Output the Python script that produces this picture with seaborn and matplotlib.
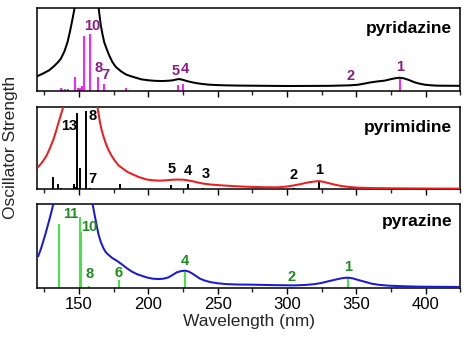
import numpy as np
import pandas as pd
import matplotlib
matplotlib.use("Agg")
import matplotlib.pyplot as plt
from matplotlib.ticker import MultipleLocator
import seaborn as sns

# ---------------- broadened absorption spectra (wavelength nm, intensity a.u.) ----------------
pdz_wl = [120, 124, 128.5, 132, 135, 136.9, 139.5, 141.7, 143.5, 145.3, 146.8, 148,
          163, 164.1, 165, 165.7, 166.8, 168.1, 169.8, 171.7, 174, 176.5, 180, 183.7,
          187, 190.9, 195, 200.5, 205, 210.1, 214, 217.3, 220, 222.1, 224.5, 226.9,
          230, 234.1, 238.5, 243.7, 250, 255.7, 265, 272.5, 300, 330, 345, 351, 356,
          360, 365, 370.4, 375.2, 378.5, 381.2, 384, 387.2, 392, 395.5, 399.2, 404,
          408.8, 425]
pdz_int = [0.18, 0.21, 0.25, 0.30, 0.35, 0.39, 0.48, 0.59, 0.72, 0.87, 1.0, 1.15,
           1.15, 1.0, 0.88, 0.79, 0.69, 0.59, 0.51, 0.43, 0.35, 0.29, 0.24, 0.20,
           0.18, 0.16, 0.14, 0.128, 0.122, 0.12, 0.123, 0.128, 0.138, 0.144, 0.136, 0.124,
           0.11, 0.096, 0.085, 0.076, 0.071, 0.068, 0.065, 0.064, 0.06, 0.062, 0.068, 0.075, 0.09,
           0.103, 0.115, 0.125, 0.144, 0.155, 0.16, 0.153, 0.136, 0.104, 0.088, 0.076, 0.068,
           0.064, 0.062]

pmd_wl = [120.5, 123.5, 126.6, 129, 131.4, 133.3, 135, 136.8, 138.6, 140,
          162, 163.3, 165, 166, 167.3, 169, 170.9, 173, 175.7, 178.5, 181.7, 185,
          188.9, 193, 198.5, 203, 208.1, 213, 217.7, 221, 224.9, 228, 232.1, 235.5,
          239.3, 245, 251.3, 262, 273, 285, 293.5, 300.7, 305, 310.3, 314, 317.5,
          322.8, 326, 329.5, 334, 339.1, 345, 351.1, 362, 377.5, 400, 425]
pmd_int = [0.27, 0.33, 0.41, 0.50, 0.60, 0.70, 0.80, 0.90, 1.0, 1.12,
           1.12, 1.0, 0.82, 0.74, 0.66, 0.57, 0.49, 0.42, 0.35, 0.29, 0.25, 0.21,
           0.18, 0.15, 0.12, 0.11, 0.105, 0.11, 0.117, 0.118, 0.117, 0.11, 0.097, 0.083,
           0.07, 0.058, 0.05, 0.038, 0.03, 0.025, 0.024, 0.036, 0.048, 0.065, 0.08, 0.09,
           0.10, 0.092, 0.077, 0.058, 0.04, 0.028, 0.02, 0.015, 0.012, 0.01, 0.008]

pzn_wl = [120.5, 122.5, 124.2, 126, 127.8, 129.6, 131.4, 133,
          158.5, 159.8, 161.5, 162.7, 163.9, 165.5, 167.5, 169.3, 171.1, 174, 177.1,
          180.5, 184.4, 188, 191.6, 195, 198.8, 203, 207.2, 211, 214.4, 217.5, 220.4,
          223.5, 226.4, 229, 231.2, 234, 237.2, 240.5, 244.4, 250, 256.4, 265, 273.2,
          290, 305.5, 313, 319.9, 325, 329.5, 334, 337.9, 341, 343.9, 347.5, 351.1,
          356, 360.7, 366, 372.7, 383, 394.3, 425]
pzn_int = [0.38, 0.47, 0.56, 0.66, 0.77, 0.88, 1.0, 1.12,
           1.12, 1.0, 0.85, 0.75, 0.65, 0.56, 0.48, 0.43, 0.40, 0.36, 0.33,
           0.29, 0.24, 0.20, 0.17, 0.15, 0.13, 0.115, 0.11, 0.115, 0.13, 0.16, 0.19,
           0.205, 0.21, 0.20, 0.18, 0.15, 0.115, 0.093, 0.075, 0.06, 0.05, 0.045, 0.044,
           0.038, 0.035, 0.04, 0.05, 0.065, 0.083, 0.10, 0.115, 0.124, 0.127, 0.118, 0.10,
           0.078, 0.056, 0.042, 0.032, 0.025, 0.02, 0.016]

# ---------------- computed transitions (wavelength nm, oscillator strength a.u., state) ----------------
pdz_states_wl = [136.7, 137.9, 139.8, 142.2, 147.0, 149.4, 150.6, 152.3, 153.7, 157.8,
                 163.8, 168.1, 184.2, 221.0, 224.6, 346.0, 381.2]
pdz_states_f = [0.03, 0.02, 0.02, 0.02, 0.17, 0.03, 0.03, 0.06, 0.66, 0.69,
                0.165, 0.085, 0.03, 0.07, 0.08, 0.005, 0.14]
pdz_states_id = ['', '', '', '', '', '', '', '', '', '10', '8', '7', '', '5', '4', '2', '1']

pmd_states_wl = [131.4, 135.0, 136.9, 146.5, 147.3, 148.2, 149.3, 151.0, 154.8, 157.9,
                 179.3, 216.6, 228.6, 239.7, 305.0, 322.8]
pmd_states_f = [0.15, 0.065, 0.02, 0.065, 0.03, 0.93, 0.02, 0.255, 0.95, 0.015,
                0.07, 0.055, 0.065, 0.01, 0.01, 0.09]
pmd_states_id = ['', '', '', '', '', '13', '', '', '8', '7', '', '5', '4', '3', '2', '1']

pzn_states_wl = [135.5, 150.4, 151.1, 157.0, 179.1, 226.2, 303.1, 343.9]
pzn_states_f = [0.77, 0.85, 0.67, 0.03, 0.10, 0.19, 0.01, 0.12]
pzn_states_id = ['', '11', '10', '8', '6', '4', '2', '1']

molecules = ["pyridazine", "pyrimidine", "pyrazine"]

# ---------------- layout ----------------
# where each state number is written: (x in nm, y in a.u.)
label_xy = {
    "pyridazine": {"10": (159.8, 0.78), "8": (163.8, 0.28), "7": (169.3, 0.19),
                   "5": (219.9, 0.24), "4": (226.4, 0.26), "2": (345.9, 0.18), "1": (381.2, 0.29)},
    "pyrimidine": {"13": (142.9, 0.77), "8": (159.6, 0.89), "7": (159.6, 0.12),
                   "5": (216.7, 0.25), "4": (228.7, 0.22), "3": (241.4, 0.18),
                   "2": (304.6, 0.17), "1": (322.8, 0.23)},
    "pyrazine": {"11": (144.1, 0.89), "10": (157.3, 0.73), "8": (157.5, 0.17),
                 "6": (178.7, 0.18), "4": (226.2, 0.33), "2": (303.1, 0.13), "1": (343.9, 0.25)},
}
style = {
    "pyridazine": dict(curve="#000000", stick="#ff1aff", text="#8b1a8b", name_y=0.70),
    "pyrimidine": dict(curve="#ee1c1c", stick="#000000", text="#000000", name_y=0.70),
    "pyrazine": dict(curve="#1a1ad6", stick="#3ce83c", text="#1e8c1e", name_y=0.74),
}

spectra = {
    "pyridazine": (pdz_wl, pdz_int, pdz_states_wl, pdz_states_f, pdz_states_id),
    "pyrimidine": (pmd_wl, pmd_int, pmd_states_wl, pmd_states_f, pmd_states_id),
    "pyrazine": (pzn_wl, pzn_int, pzn_states_wl, pzn_states_f, pzn_states_id),
}

sns.set_theme(style="ticks")
plt.rcParams["font.family"] = ["Liberation Sans", "DejaVu Sans"]
plt.rcParams["axes.linewidth"] = 1.1

fig = plt.figure(figsize=(4.74, 3.4), dpi=100)
left, right = 0.079, 0.9715
panel_bounds = [(0.7324, 0.9765), (0.4432, 0.6853), (0.152, 0.399)]

axes = []
for mol, (bot, top) in zip(molecules, panel_bounds):
    ax = fig.add_axes([left, bot, right - left, top - bot])
    axes.append(ax)
    wl, inten, s_wl, s_f, s_id = spectra[mol]
    st = style[mol]

    ax.vlines(s_wl, 0, s_f, colors=st["stick"], linewidth=1.4, zorder=2)
    df = pd.DataFrame({"wl": wl, "intensity": inten})
    sns.lineplot(data=df, x="wl", y="intensity", ax=ax, color=st["curve"],
                 linewidth=1.45, sort=False, estimator=None, zorder=3)

    for sid, (lx, ly) in label_xy[mol].items():
        ax.text(lx, ly, sid, color=st["text"], fontsize=10.5, fontweight="bold",
                ha="center", va="center", zorder=4)

    ax.text(0.98, st["name_y"], mol, transform=ax.transAxes, ha="right",
            va="baseline", fontsize=12.5, fontweight="bold", color="black")

    ax.set_xlim(120, 425)
    ax.set_ylim(0, 1)
    ax.set_xlabel("")
    ax.set_ylabel("")
    ax.set_yticks([])
    ax.xaxis.set_major_locator(MultipleLocator(50))
    ax.xaxis.set_minor_locator(MultipleLocator(25))
    ax.tick_params(axis="x", which="major", direction="out", length=4, width=1.0,
                   labelsize=12, pad=2, colors="black")
    ax.tick_params(axis="x", which="minor", direction="out", length=3, width=1.0)
    for sp in ax.spines.values():
        sp.set_visible(True)
        sp.set_color("black")
        sp.set_linewidth(1.1)

for ax in axes[:-1]:
    ax.tick_params(axis="x", which="both", labelbottom=False)

axes[-1].set_xlabel("Wavelength (nm)", fontsize=12.5, labelpad=2)
fig.text(0.023, 0.565, "Oscillator Strength", rotation=90, ha="center", va="center",
         fontsize=12.5)

fig.savefig("out.png", dpi=100)
